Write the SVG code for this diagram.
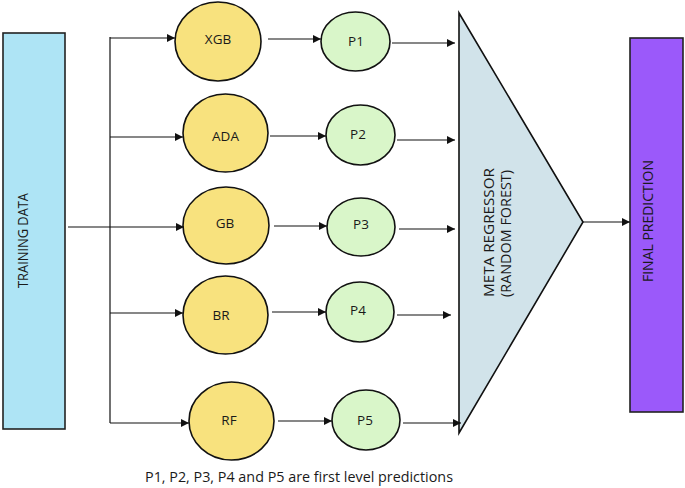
<svg xmlns="http://www.w3.org/2000/svg" width="685" height="488" viewBox="0 0 685 488">
<defs>
<style>
.lbl{font-family:"Open Sans","Liberation Sans",sans-serif;font-size:13.5px;fill:#1a1a1a;text-anchor:middle;dominant-baseline:central}
.big{font-family:"Open Sans","Liberation Sans",sans-serif;font-size:14px;fill:#1a1a1a;text-anchor:middle}
.model{fill:#F8E27E;stroke:#111;stroke-width:1.6}
.pred{fill:#D9F6C9;stroke:#111;stroke-width:1.6}
.conn line{stroke:#111;stroke-width:1.2;fill:none}
.arr{marker-end:url(#ah)}
</style>
<marker id="ah" viewBox="0 0 10 10" refX="10" refY="5" markerWidth="9" markerHeight="8" markerUnits="userSpaceOnUse" orient="auto">
<path d="M0,0 L10,5 L0,10 z" fill="#111"/>
</marker>
</defs>
<rect width="685" height="488" fill="#fff"/>

<g id="training-data">
<rect x="3" y="33" width="62" height="396" fill="#AEE4F5" stroke="#222" stroke-width="1.6"/>
<text class="big" transform="translate(28,240.5) rotate(-90)" textLength="95" lengthAdjust="spacingAndGlyphs">TRAINING DATA</text>
</g>

<g id="xgb"><ellipse class="model" cx="218" cy="41.5" rx="43" ry="39.5"/><text class="lbl" x="218" y="39">XGB</text></g>
<g id="ada"><ellipse class="model" cx="225.5" cy="133" rx="42.5" ry="39"/><text class="lbl" x="225.5" y="136">ADA</text></g>
<g id="gb"><ellipse class="model" cx="226" cy="225.5" rx="43" ry="38.5"/><text class="lbl" x="225" y="223">GB</text></g>
<g id="br"><ellipse class="model" cx="225.5" cy="315" rx="42.5" ry="39"/><text class="lbl" x="221" y="315">BR</text></g>
<g id="rf"><ellipse class="model" cx="231.5" cy="421" rx="42.5" ry="39"/><text class="lbl" x="229" y="420">RF</text></g>

<g id="p1"><ellipse class="pred" cx="355.5" cy="41.5" rx="34.5" ry="29.5"/><text class="lbl" x="356" y="41">P1</text></g>
<g id="p2"><ellipse class="pred" cx="360.5" cy="135" rx="34.5" ry="30"/><text class="lbl" x="358" y="134">P2</text></g>
<g id="p3"><ellipse class="pred" cx="361" cy="227" rx="34" ry="29"/><text class="lbl" x="361" y="224">P3</text></g>
<g id="p4"><ellipse class="pred" cx="360" cy="312" rx="34" ry="30"/><text class="lbl" x="358" y="310">P4</text></g>
<g id="p5"><ellipse class="pred" cx="366" cy="420" rx="34" ry="30"/><text class="lbl" x="365" y="420">P5</text></g>

<g id="meta-regressor">
<polygon points="459,13 583,222 459,433" fill="#D1E3EA" stroke="#111" stroke-width="1.6" stroke-linejoin="miter"/>
<text class="big" transform="translate(494,232.5) rotate(-90)" textLength="129" lengthAdjust="spacingAndGlyphs">META REGRESSOR</text>
<text class="big" transform="translate(511,233.5) rotate(-90)" textLength="127" lengthAdjust="spacingAndGlyphs">(RANDOM FOREST)</text>
</g>

<g id="final-prediction">
<rect x="630" y="38" width="53" height="374" fill="#9B59FA" stroke="#222" stroke-width="1.6"/>
<text class="big" transform="translate(653,221) rotate(-90)" textLength="122" lengthAdjust="spacingAndGlyphs">FINAL PREDICTION</text>
</g>

<g id="connectors" class="conn">
<line x1="110" y1="37" x2="110" y2="423"/>
<line class="arr" x1="110" y1="38" x2="175" y2="38"/>
<line class="arr" x1="110" y1="137" x2="183" y2="137"/>
<line class="arr" x1="68" y1="227" x2="184" y2="227"/>
<line class="arr" x1="110" y1="313" x2="183" y2="313"/>
<line class="arr" x1="110" y1="423" x2="189" y2="423"/>

<line class="arr" x1="268" y1="39" x2="321" y2="39"/>
<line class="arr" x1="270" y1="136" x2="326" y2="136"/>
<line class="arr" x1="274" y1="226" x2="327" y2="226"/>
<line class="arr" x1="272" y1="312" x2="326" y2="312"/>
<line class="arr" x1="278" y1="421" x2="332" y2="421"/>

<line class="arr" x1="392" y1="43" x2="455" y2="43"/>
<line class="arr" x1="397" y1="140" x2="455" y2="140"/>
<line class="arr" x1="399" y1="229" x2="455" y2="229"/>
<line class="arr" x1="397" y1="315" x2="451" y2="315"/>
<line class="arr" x1="403" y1="423" x2="461" y2="423"/>

<line class="arr" x1="583" y1="222" x2="630" y2="222"/>
</g>

<text id="caption" x="145" y="482" font-family="Open Sans, Liberation Sans, sans-serif" font-size="14" fill="#1a1a1a" textLength="308" lengthAdjust="spacingAndGlyphs">P1, P2, P3, P4 and P5 are first level predictions</text>
</svg>
